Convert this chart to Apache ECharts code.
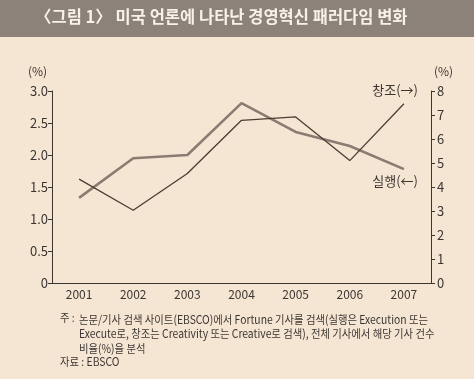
<!DOCTYPE html>
<html><head><meta charset="utf-8">
<script src="https://cdn.jsdelivr.net/npm/echarts@6/dist/echarts.min.js"></script>
<style>html,body{margin:0;padding:0;background:#f5e6d4}#c{width:474px;height:379px}</style>
</head><body><div id="c"></div>
<script>
const years = ['2001','2002','2003','2004','2005','2006','2007'];
const execution = [1.33, 1.95, 2.0, 2.81, 2.36, 2.14, 1.78];   // 실행, left axis (%)
const creativity = [4.33, 3.03, 4.56, 6.78, 6.92, 5.1, 7.47];  // 창조, right axis (%)
const leftTicks = ['0','0.5','1.0','1.5','2.0','2.5','3.0'];
const title = '〈그림 1〉 미국 언론에 나타난 경영혁신 패러다임 변화';
const noteLines = [
  '논문/기사 검색 사이트(EBSCO)에서 Fortune 기사를 검색(실행은 Execution 또는',
  'Execute로, 창조는 Creativity 또는 Creative로 검색), 전체 기사에서 해당 기사 건수',
  '비율(%)을 분석'
];
const source = '자료 : EBSCO';

const ink = '#3c3632';
const font = '"Noto Sans CJK KR", "Noto Sans", sans-serif';
const chart = echarts.init(document.getElementById('c'));
chart.setOption({
  backgroundColor: '#f5e6d4',
  animation: false,
  textStyle: {fontFamily: font, color: ink},
  grid: {left: 52, right: 43, top: 91, bottom: 96},
  xAxis: {
    type: 'category', data: years, boundaryGap: true,
    axisLine: {lineStyle: {color: ink, width: 1}},
    axisTick: {inside: true, length: 5, lineStyle: {color: ink}},
    axisLabel: {color: ink, fontSize: 12, margin: 5, fontFamily: font}
  },
  yAxis: [{
    type: 'value', min: 0, max: 3, interval: 0.5, position: 'left',
    axisLine: {show: true, lineStyle: {color: ink}},
    axisTick: {show: true, length: 4, lineStyle: {color: ink}},
    splitLine: {show: false},
    axisLabel: {color: ink, fontSize: 13, margin: 4, fontFamily: font,
      formatter: v => leftTicks[Math.round(v * 2)]}
  }, {
    type: 'value', min: 0, max: 8, interval: 1, position: 'right',
    axisLine: {show: true, lineStyle: {color: ink}},
    axisTick: {show: true, length: 4, lineStyle: {color: ink}},
    splitLine: {show: false},
    axisLabel: {color: ink, fontSize: 13, margin: 6, fontFamily: font}
  }],
  series: [{
    name: '실행', type: 'line', yAxisIndex: 0, data: execution,
    symbol: 'none', lineStyle: {color: '#8a7c72', width: 2.6}, z: 2
  }, {
    name: '창조', type: 'line', yAxisIndex: 1, data: creativity,
    symbol: 'none', lineStyle: {color: '#4b3d32', width: 1.3}, z: 3
  }],
  graphic: [
    {type: 'rect', shape: {x: 0, y: 0, width: 474, height: 37}, style: {fill: '#8c8279'}},
    {type: 'text', x: 35, y: 8, style: {text: title, fill: '#f7f1e8', font: 'bold 16.5px ' + font}},
    {type: 'text', left: 28, top: 65, style: {text: '(%)', fill: ink, font: '12px ' + font}},
    {type: 'text', left: 434, top: 65, style: {text: '(%)', fill: ink, font: '12px ' + font}},
    {type: 'text', right: 56, top: 84, style: {text: '창조(→)', fill: ink, font: '13px ' + font}},
    {type: 'text', right: 56, top: 175, style: {text: '실행(←)', fill: ink, font: '13px ' + font}},
    {type: 'text', x: 60, y: 312, scaleX: 0.9, style: {text: '주 :', fill: ink, font: '11.5px ' + font}},
    {type: 'text', x: 79, y: 312, scaleX: 0.9, style: {text: noteLines.join('\n'), fill: ink, font: '11.5px ' + font, lineHeight: 14.5}},
    {type: 'text', x: 60, y: 356, scaleX: 0.9, style: {text: source, fill: ink, font: '11.5px ' + font}}
  ]
});
</script></body></html>
